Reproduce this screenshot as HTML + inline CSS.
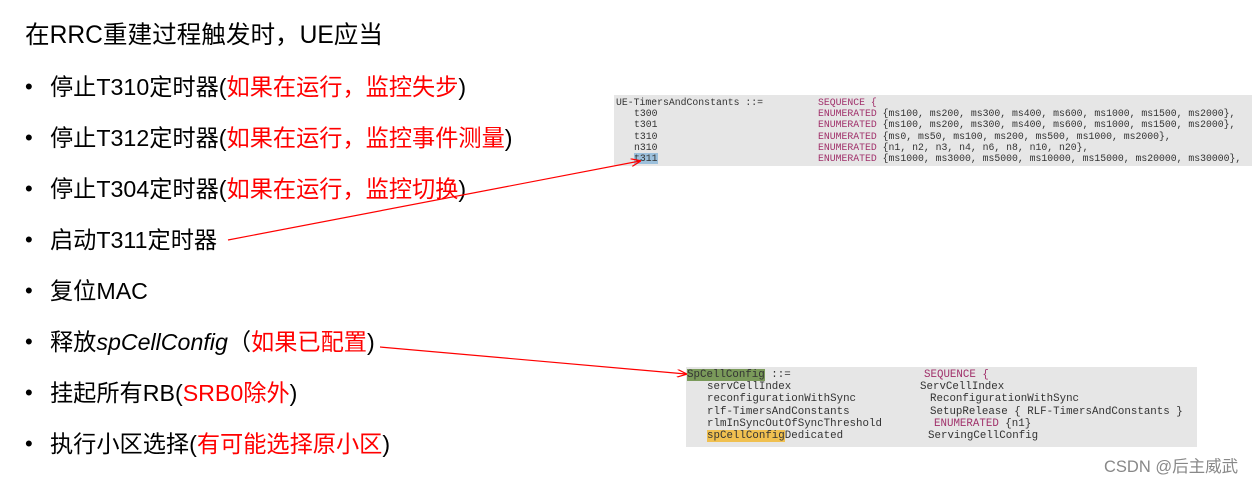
<!DOCTYPE html>
<html><head><meta charset="utf-8"><style>
body{margin:0;width:1256px;height:480px;background:#fff;position:relative;overflow:hidden;font-family:"Liberation Sans","Noto Sans CJK SC",sans-serif;}
.t{position:absolute;white-space:nowrap;color:#000;}
.b{position:absolute;left:50px;font-size:23.2px;line-height:26px;white-space:nowrap;}
.d{position:absolute;left:25px;font-size:22px;line-height:26px;}
.r{color:#f00}
.box{position:absolute;background:#e6e6e6;font-family:"Liberation Mono",monospace;color:#333;}
.box div{position:absolute;white-space:pre;}
.k{color:#a0306a}
</style></head><body>
<div class="t" style="left:25px;top:22px;font-size:24.6px;line-height:28px">在RRC重建过程触发时，UE应当</div>
<div class="d" style="top:74px">•</div><div class="b" style="top:74px">停止T310定时器(<span class="r">如果在运行，监控失步</span>)</div>
<div class="d" style="top:125px">•</div><div class="b" style="top:125px">停止T312定时器(<span class="r">如果在运行，监控事件测量</span>)</div>
<div class="d" style="top:176px">•</div><div class="b" style="top:176px">停止T304定时器(<span class="r">如果在运行，监控切换</span>)</div>
<div class="d" style="top:227px">•</div><div class="b" style="top:227px">启动T311定时器</div>
<div class="d" style="top:278px">•</div><div class="b" style="top:278px">复位MAC</div>
<div class="d" style="top:329px">•</div><div class="b" style="top:329px">释放<i>spCellConfig</i>（<span class="r">如果已配置</span>)</div>
<div class="d" style="top:380px">•</div><div class="b" style="top:380px">挂起所有RB(<span class="r">SRB0除外</span>)</div>
<div class="d" style="top:431px">•</div><div class="b" style="top:431px">执行小区选择(<span class="r">有可能选择原小区</span>)</div>

<div class="box" style="left:614px;top:95px;width:638px;height:71px;font-size:9.8px;line-height:11.3px">
<div style="left:2px;top:2px">UE-TimersAndConstants ::=</div><div class="k" style="left:204px;top:2px">SEQUENCE {</div>
<div style="left:20px;top:13px">t300</div><div style="left:204px;top:13px"><span class="k">ENUMERATED</span> {ms100, ms200, ms300, ms400, ms600, ms1000, ms1500, ms2000},</div>
<div style="left:20px;top:24px">t301</div><div style="left:204px;top:24px"><span class="k">ENUMERATED</span> {ms100, ms200, ms300, ms400, ms600, ms1000, ms1500, ms2000},</div>
<div style="left:20px;top:36px">t310</div><div style="left:204px;top:36px"><span class="k">ENUMERATED</span> {ms0, ms50, ms100, ms200, ms500, ms1000, ms2000},</div>
<div style="left:20px;top:47px">n310</div><div style="left:204px;top:47px"><span class="k">ENUMERATED</span> {n1, n2, n3, n4, n6, n8, n10, n20},</div>
<div style="left:20px;top:58px;background:#9cc0dc">t311</div><div style="left:204px;top:58px"><span class="k">ENUMERATED</span> {ms1000, ms3000, ms5000, ms10000, ms15000, ms20000, ms30000},</div>
</div>

<div class="box" style="left:686px;top:367px;width:511px;height:80px;font-size:10.8px;line-height:12.4px">
<div style="left:1px;top:2px"><span style="background:#7a9a5a">SpCellConfig</span> ::=</div><div class="k" style="left:238px;top:2px">SEQUENCE {</div>
<div style="left:21px;top:14px">servCellIndex</div><div style="left:234px;top:14px">ServCellIndex</div>
<div style="left:21px;top:26px">reconfigurationWithSync</div><div style="left:244px;top:26px">ReconfigurationWithSync</div>
<div style="left:21px;top:39px">rlf-TimersAndConstants</div><div style="left:244px;top:39px">SetupRelease { RLF-TimersAndConstants }</div>
<div style="left:21px;top:51px">rlmInSyncOutOfSyncThreshold</div><div style="left:248px;top:51px"><span class="k">ENUMERATED</span> {n1}</div>
<div style="left:21px;top:63px"><span style="background:#f0c050">spCellConfig</span>Dedicated</div><div style="left:242px;top:63px">ServingCellConfig</div>
</div>

<div class="t" style="left:1104px;top:453px;font-size:16.5px;color:#888">CSDN @后主威武</div>

<svg style="position:absolute;left:0;top:0" width="1256" height="480">
<defs><marker id="a" markerWidth="10" markerHeight="8" refX="9" refY="4" orient="auto" markerUnits="userSpaceOnUse"><path d="M0,0 L10,4 L0,8" fill="none" stroke="#f00" stroke-width="1.2"/></marker></defs>
<line x1="228" y1="240" x2="640" y2="161" stroke="#f00" stroke-width="1.2" marker-end="url(#a)"/>
<line x1="380" y1="347" x2="686" y2="374" stroke="#f00" stroke-width="1.2" marker-end="url(#a)"/>
</svg>
</body></html>
